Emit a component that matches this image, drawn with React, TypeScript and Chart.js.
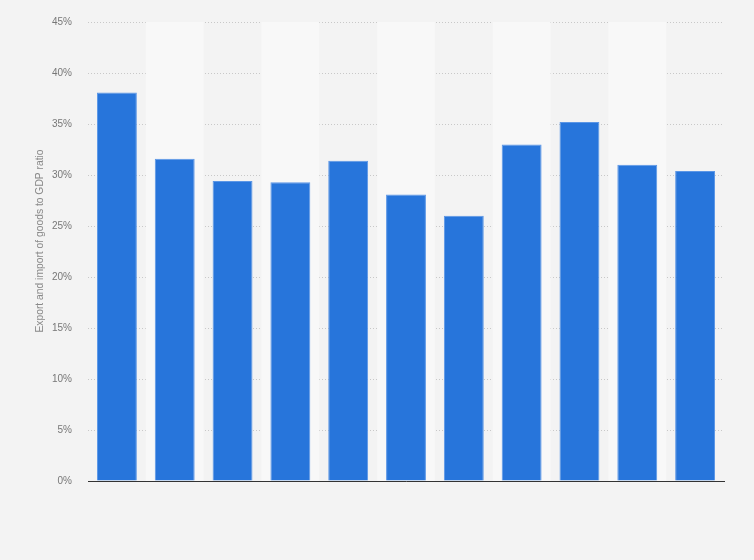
import { useEffect, useRef } from "react";
import Chart from "chart.js/auto";

const categories = ["1", "2", "3", "4", "5", "6", "7", "8", "9", "10", "11"];
const ratios = [38.1, 31.6, 29.4, 29.3, 31.4, 28.1, 26.0, 33.0, 35.2, 31.0, 30.4];
const yTicks = [0, 5, 10, 15, 20, 25, 30, 35, 40, 45];
const yTitle = "Export and import of goods to GDP ratio";

// alternating column shading behind the bars
const bandPlugin = {
  id: "bands",
  beforeDatasetsDraw(chart: any) {
    const { ctx, chartArea, scales } = chart;
    const x = scales.x;
    const step = chartArea.width / categories.length;
    ctx.save();
    ctx.fillStyle = "#f8f8f8";
    categories.forEach((_, i) => {
      if (i % 2 === 1) {
        const cx = x.getPixelForValue(i);
        ctx.fillRect(cx - step / 2, chartArea.top, step, chartArea.bottom - chartArea.top);
      }
    });
    ctx.restore();
  },
};

// y title sits a bit above the plot centre in the original
const yTitlePlugin = {
  id: "ytitle",
  afterDraw(chart: any) {
    const { ctx } = chart;
    ctx.save();
    ctx.translate(40, 241);
    ctx.rotate(-Math.PI / 2);
    ctx.font = "10.3px Arial, 'Liberation Sans', sans-serif";
    ctx.fillStyle = "#888";
    ctx.textAlign = "center";
    ctx.textBaseline = "middle";
    ctx.fillText(yTitle, 0, 0);
    ctx.restore();
  },
};

export default function App() {
  const canvasRef = useRef<HTMLCanvasElement>(null);

  useEffect(() => {
    if (!canvasRef.current) return;
    const chart = new Chart(canvasRef.current, {
      type: "bar",
      data: {
        labels: categories,
        datasets: [
          {
            data: ratios,
            backgroundColor: "#2775db",
            borderColor: "#5b96e6",
            borderWidth: { top: 1, left: 1, right: 1, bottom: 0 },
            categoryPercentage: 1,
            barPercentage: 0.69,
          },
        ],
      },
      options: {
        animation: false,
        responsive: false,
        layout: { padding: { top: 20, right: 30, left: 0, bottom: 0 } },
        plugins: { legend: { display: false }, tooltip: { enabled: false } },
        scales: {
          x: {
            grid: { display: false },
            border: { color: "#333", width: 1 },
            ticks: { display: false },
            afterFit: (s: any) => {
              s.height = 79;
            },
          },
          y: {
            min: 0,
            max: 45,
            afterBuildTicks: (s: any) => {
              s.ticks = yTicks.map((v) => ({ value: v }));
            },
            afterFit: (s: any) => {
              s.width = 88;
            },
            border: { display: false, dash: [1, 2] },
            grid: { color: "#c8c8c8", lineWidth: 1, drawTicks: false },
            ticks: {
              color: "#777",
              padding: 16,
              font: { family: "Arial, 'Liberation Sans', sans-serif", size: 10 },
              callback: (v: any) => `${v}%`,
            },
          },
        },
      },
      plugins: [bandPlugin, yTitlePlugin],
    });
    return () => chart.destroy();
  }, []);

  return (
    <div style={{ position: "fixed", left: 0, top: 0, width: 754, height: 560, background: "#f3f3f3" }}>
      <canvas ref={canvasRef} width={754} height={560} style={{ width: 754, height: 560 }} />
    </div>
  );
}
